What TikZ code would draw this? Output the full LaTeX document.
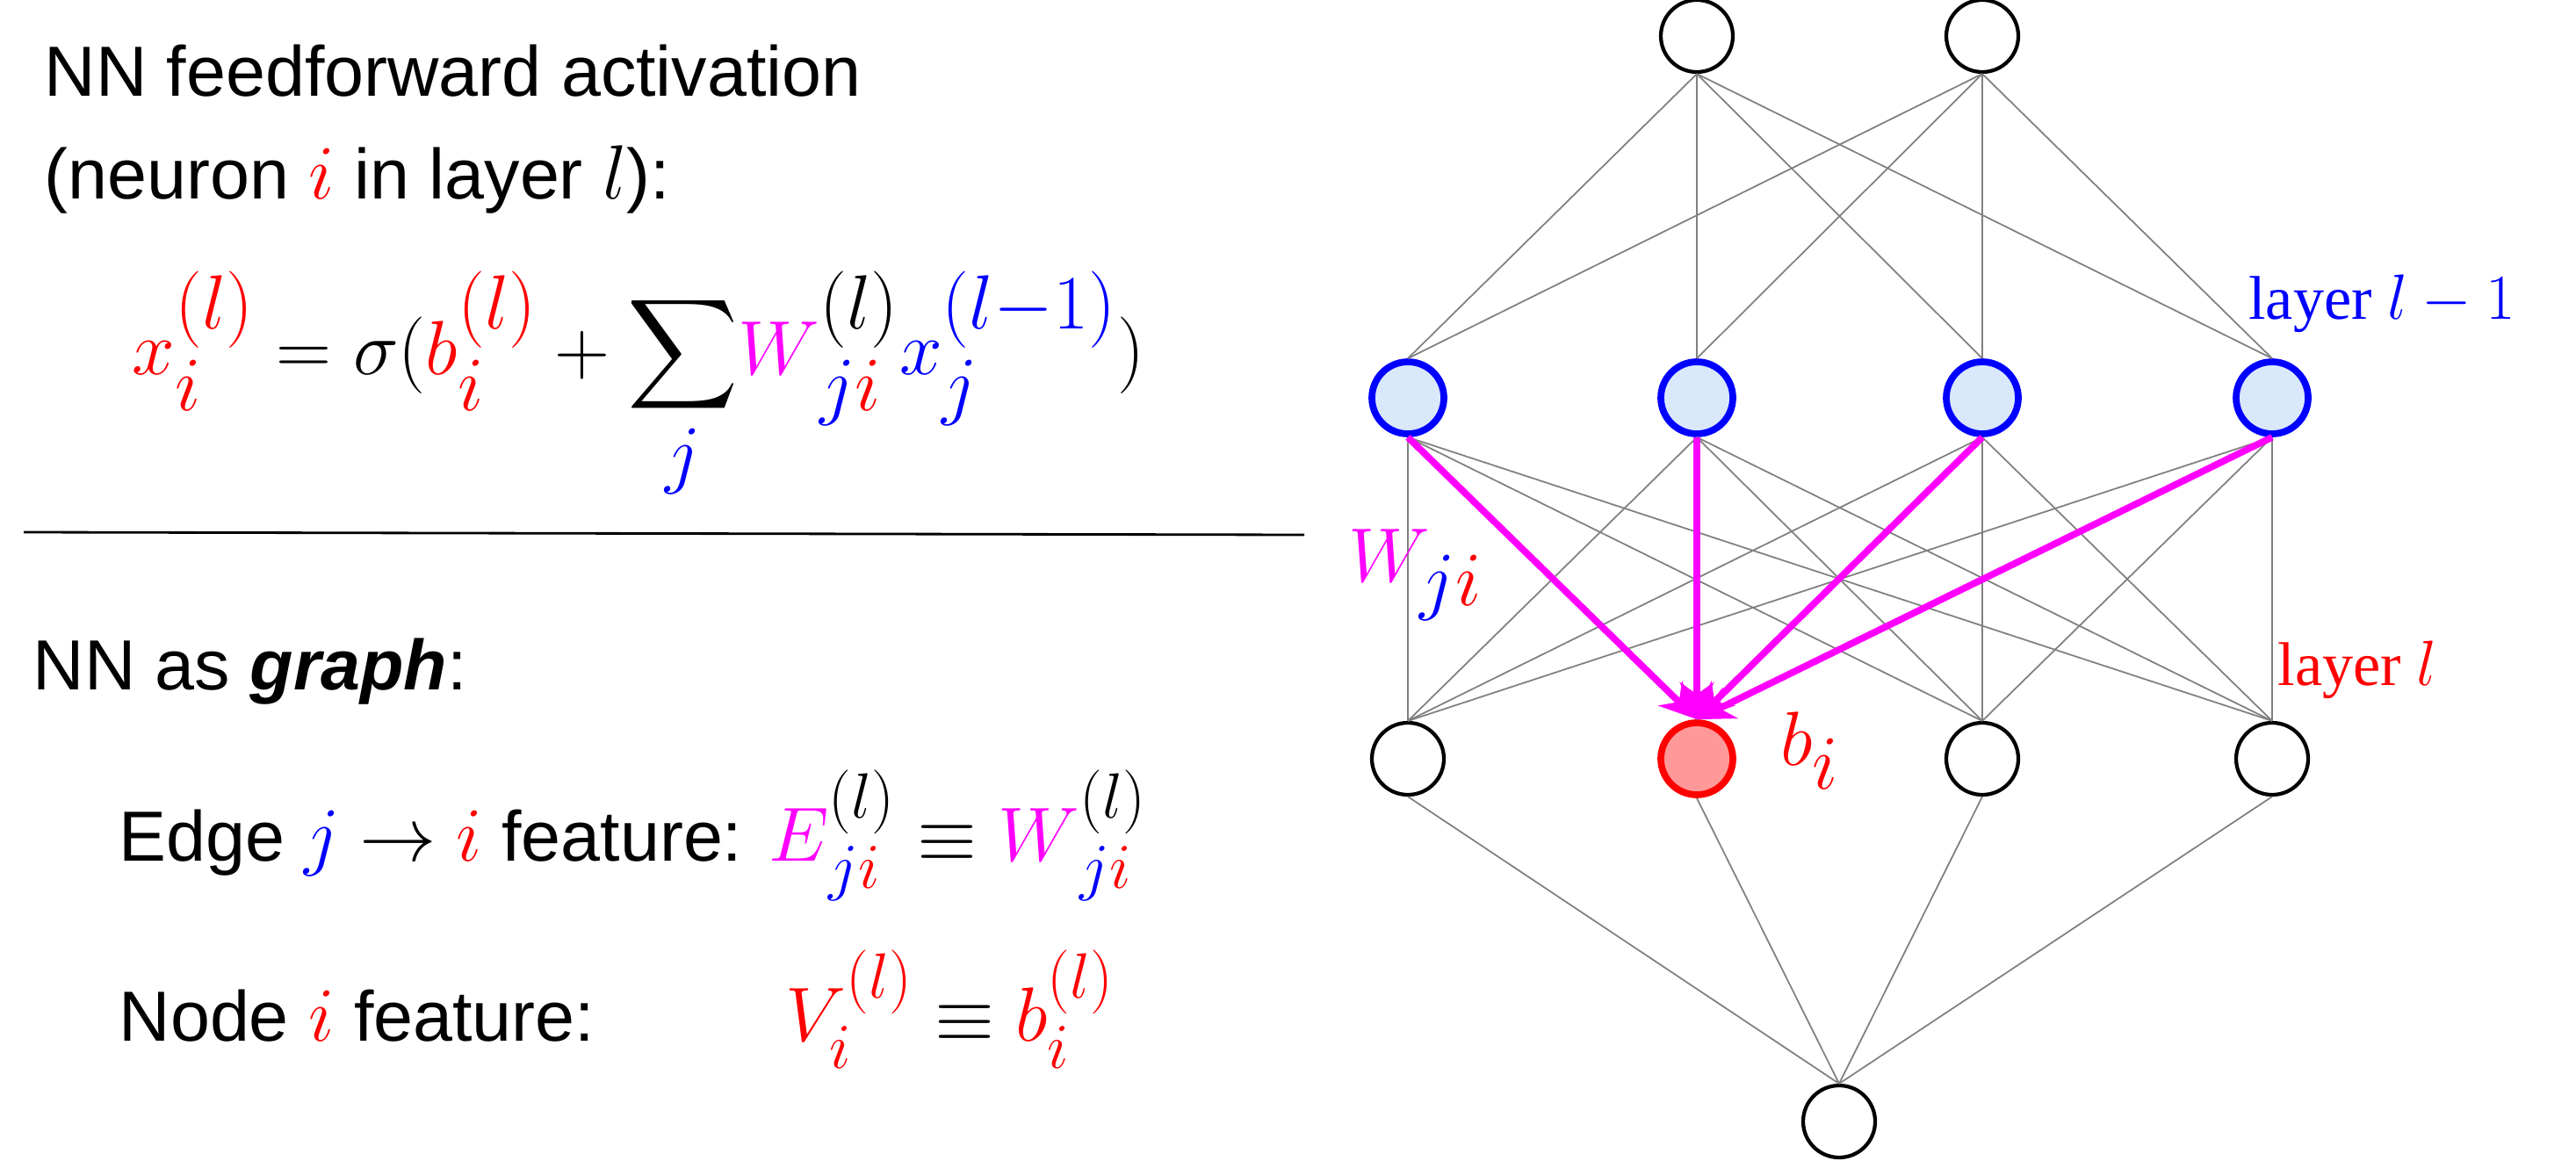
\documentclass[tikz,border=0pt]{standalone}
\usepackage{amsmath}
\usepackage{fontspec}
\setmainfont{Liberation Sans}
\newfontfamily\serif{Liberation Serif}
\usetikzlibrary{arrows.meta}
\definecolor{mag}{RGB}{255,0,255}
\definecolor{lightblue}{RGB}{218,232,252}
\definecolor{lightred}{RGB}{255,153,153}
\tikzset{
  neuron/.style = {circle, draw, line width=1.2pt, minimum size=0.82cm, inner sep=0pt},
  prev/.style   = {neuron, draw=blue, fill=lightblue, line width=2.2pt},
  cur/.style    = {neuron, draw=red, fill=lightred, line width=2.2pt},
  link/.style   = {draw=gray, line width=0.5pt},
  weight/.style = {draw=mag, line width=2.2pt, -{Stealth[length=12pt,width=11pt]}},
  txt/.style    = {anchor=base west, font=\fontsize{23}{28}\selectfont, inner sep=0pt},
  layer/.style  = {font=\serif\fontsize{20}{24}\selectfont}
}
\newcommand{\mathbig}[1]{{\fontsize{29}{34}\selectfont$#1$}}
\begin{document}
\begin{tikzpicture}
  \useasboundingbox (0,0) rectangle (29.33,13.21);
  % network
  \node [neuron] (in1) at (19.32,12.80) {};
  \node [neuron] (in2) at (22.57,12.80) {};
  \foreach \x [count=\k] in {16.03,19.32,22.57,25.87}
    \node [prev] (h\k) at (\x,8.68) {};
  \foreach \x [count=\k] in {16.03,19.32,22.57,25.87}
    \node [neuron] (o\k) at (\x,4.57) {};
  \node [cur] (o2) at (19.32,4.57) {};
  \node [neuron] (out) at (20.94,0.44) {};
  \foreach \a in {1,2}
    \foreach \k in {1,...,4}
      \draw [link] (in\a.south) -- (h\k.north);
  \foreach \a in {1,...,4}
    \foreach \k in {1,...,4}
      \draw [link] (h\a.south) -- (o\k.north);
  \foreach \k in {1,...,4}
    \draw [link] (o\k.south) -- (out.north);
  \foreach \a in {1,...,4}
    \draw [weight] (h\a.south) -- (o2.north);
  % labels
  \node [layer, text=blue] (lprev) at (27.12,9.75) {layer $l-1$};
  \node [layer, text=red] (lcur) at (26.84,5.58) {layer $l$};
  \node [font=\fontsize{56}{60}\selectfont] (wji) at (16.12,6.66)
    {$\color{mag}W_{\color{blue}j\color{red}i}$};
  \node [font=\fontsize{46}{50}\selectfont, text=red] (bi) at (20.61,4.66) {$b_i$};
  % left text
  \node [txt] (t1) at (0.5,12.11) {NN feedforward activation};
  \node [txt] (t2) at (0.5,10.95) {(neuron \mathbig{\color{red}i} in layer \mathbig{l}):};
  \node [txt, font=\fontsize{42}{48}\selectfont] (eq) at (1.5,8.95)
    {${\color{red}x_i^{(l)}} = \sigma({\color{red}b_i^{(l)}} + {\displaystyle\sum_{\color{blue}j}}
      {\color{mag}W}_{{\color{blue}j}{\color{red}i}}^{(l)}{\color{blue}x_j^{(l-1)}})$};
  \coordinate (d1) at (0.27,7.15);
  \coordinate (d2) at (14.85,7.12);
  \draw [line width=0.8pt] (d1) -- (d2);
  \node [txt] (t3) at (0.37,5.36) {NN as \textbf{\textit{graph}}:};
  \node [txt] (t4) at (1.35,3.41) {Edge \mathbig{\color{blue}j} \mathbig{\rightarrow} \mathbig{\color{red}i} feature:
    \mathbig{{\color{mag}E}_{{\color{blue}j}{\color{red}i}}^{(l)} \equiv {\color{mag}W}_{{\color{blue}j}{\color{red}i}}^{(l)}}};
  \node [txt] (t5) at (1.35,1.36) {Node \mathbig{\color{red}i} feature:};
  \node [txt] (t6) at (8.94,1.36) {\mathbig{{\color{red}V_i^{(l)}} \equiv {\color{red}b_i^{(l)}}}};
\end{tikzpicture}
\end{document}
